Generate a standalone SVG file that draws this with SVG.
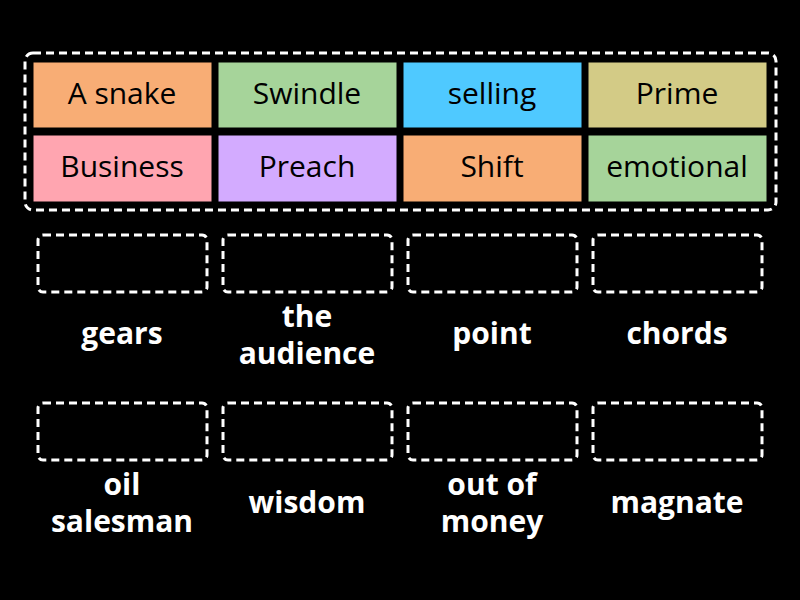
<svg xmlns="http://www.w3.org/2000/svg" width="800" height="600" viewBox="0 0 800 600">
<style>
.tile text{font-family:"Open Sans","Noto Sans",sans-serif;font-size:30px;fill:#000;text-anchor:middle}
.lbl{font-family:"Open Sans","Noto Sans",sans-serif;font-size:30px;font-weight:bold;fill:#fff;text-anchor:middle}
.slot{fill:none;stroke:#fff;stroke-width:3;stroke-dasharray:8 5}
.t{stroke:#000;stroke-width:1}
</style>
<rect width="800" height="600" fill="#000"/>
<rect x="25" y="53" width="751" height="157" rx="8" fill="none" stroke="#fff" stroke-width="3" stroke-dasharray="8 5"/>
<g id="t1" class="tile"><rect class="t" x="33" y="62" width="179" height="66" fill="#F8AD75"/><text x="122" y="104">A snake</text></g>
<g id="t2" class="tile"><rect class="t" x="218" y="62" width="179" height="66" fill="#A6D49A"/><text x="307" y="104">Swindle</text></g>
<g id="t3" class="tile"><rect class="t" x="403" y="62" width="179" height="66" fill="#4FC9FF"/><text x="492" y="104">selling</text></g>
<g id="t4" class="tile"><rect class="t" x="588" y="62" width="179" height="66" fill="#D3CB86"/><text x="677" y="104">Prime</text></g>
<g id="t5" class="tile"><rect class="t" x="33" y="135" width="179" height="67" fill="#FFA5B0"/><text x="122" y="177">Business</text></g>
<g id="t6" class="tile"><rect class="t" x="218" y="135" width="179" height="67" fill="#D3ABFF"/><text x="307" y="177">Preach</text></g>
<g id="t7" class="tile"><rect class="t" x="403" y="135" width="179" height="67" fill="#F8AD75"/><text x="492" y="177">Shift</text></g>
<g id="t8" class="tile"><rect class="t" x="588" y="135" width="179" height="67" fill="#A6D49A"/><text x="677" y="177">emotional</text></g>
<g id="s1"><rect class="slot" x="38" y="235" width="169" height="57" rx="5"/><text class="lbl" x="122" y="344">gears</text></g>
<g id="s2"><rect class="slot" x="223" y="235" width="169" height="57" rx="5"/><text class="lbl" x="307" y="327">the</text><text class="lbl" x="307" y="364">audience</text></g>
<g id="s3"><rect class="slot" x="408" y="235" width="169" height="57" rx="5"/><text class="lbl" x="492" y="344">point</text></g>
<g id="s4"><rect class="slot" x="593" y="235" width="169" height="57" rx="5"/><text class="lbl" x="677" y="344">chords</text></g>
<g id="s5"><rect class="slot" x="38" y="403" width="169" height="57" rx="5"/><text class="lbl" x="122" y="495">oil</text><text class="lbl" x="122" y="532">salesman</text></g>
<g id="s6"><rect class="slot" x="223" y="403" width="169" height="57" rx="5"/><text class="lbl" x="307" y="513">wisdom</text></g>
<g id="s7"><rect class="slot" x="408" y="403" width="169" height="57" rx="5"/><text class="lbl" x="492" y="495">out of</text><text class="lbl" x="492" y="532">money</text></g>
<g id="s8"><rect class="slot" x="593" y="403" width="169" height="57" rx="5"/><text class="lbl" x="677" y="513">magnate</text></g>
<g id="connectors"/>
</svg>
